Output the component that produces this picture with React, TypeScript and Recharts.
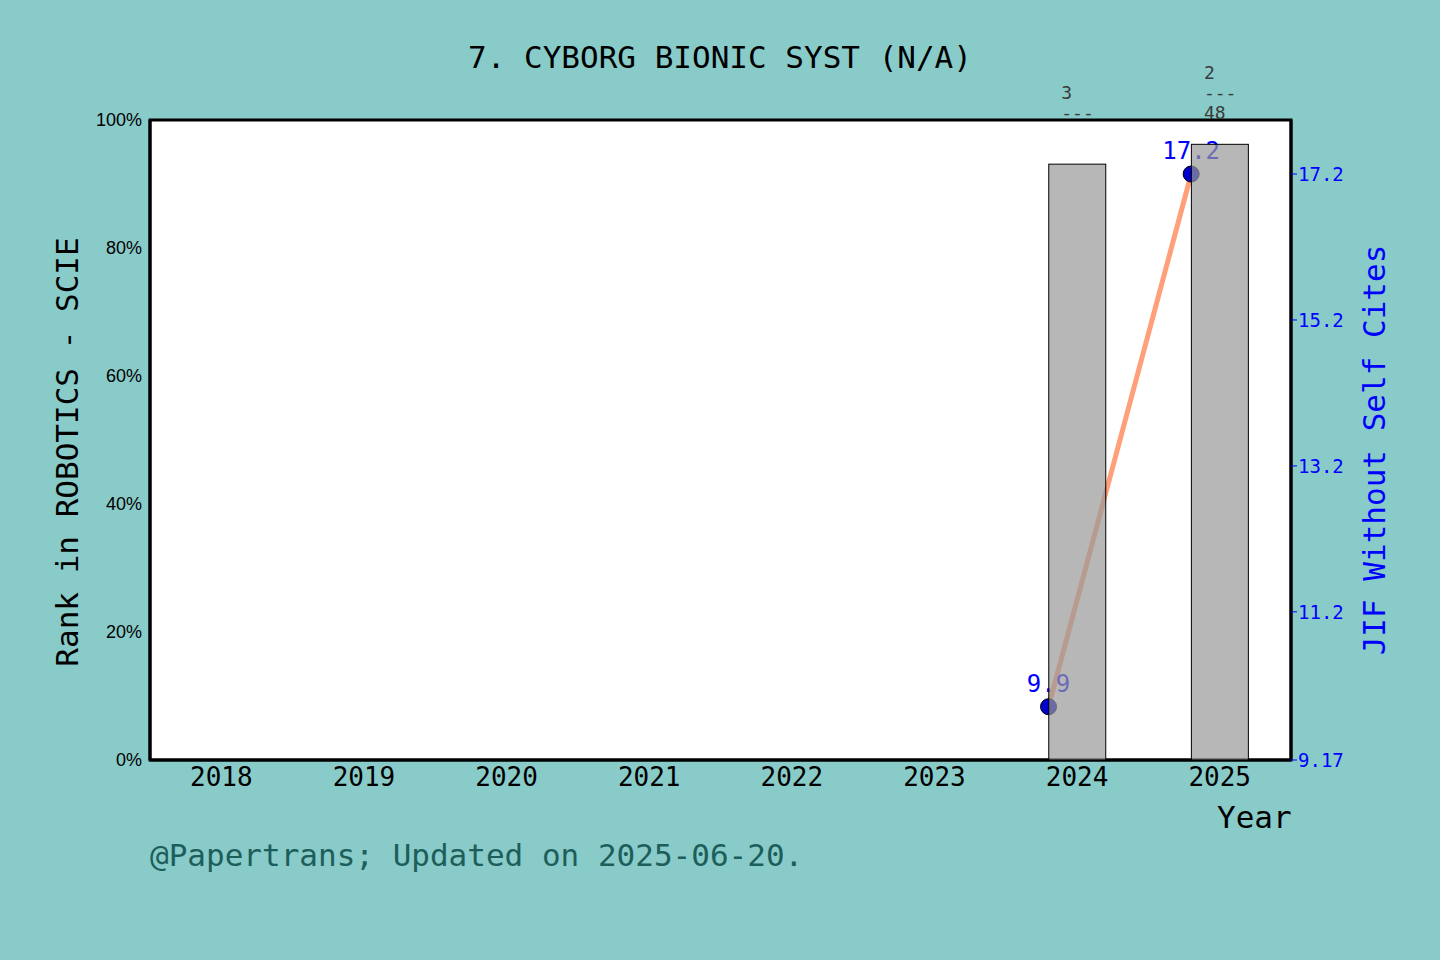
import React from 'react';
import {
  ComposedChart,
  Bar,
  Line,
  XAxis,
  YAxis,
  CartesianGrid,
  ReferenceArea,
  LabelList,
} from 'recharts';

const years = ['2018', '2019', '2020', '2021', '2022', '2023', '2024', '2025'];
const rankPct = [null, null, null, null, null, null, 93.1, 96.2];
const jifNoSelf = [null, null, null, null, null, null, 9.9, 17.2];
const rankPos = [null, null, null, null, null, null, 3, 2];
const rankTotal = [null, null, null, null, null, null, 43, 48];
const leftTicks = [0, 20, 40, 60, 80, 100];
const rightTicks = [9.17, 11.2, 13.2, 15.2, 17.2];
const boundaryTicks = [2018.5, 2019.5, 2020.5, 2021.5, 2022.5, 2023.5, 2024.5];

const data = years.map((y, i) => ({
  year: y,
  yearNum: Number(y),
  rank: rankPct[i],
  jif: jifNoSelf[i],
  pos: rankPos[i],
  total: rankTotal[i],
}));

const BG = '#88cbc9';
const MONO = '"DejaVu Sans Mono", monospace';
const PLOT_TOP = 120;

// bar rectangle plus the "rank / --- / total" note above it; the note is
// clipped at the plot's top edge, so the lower lines vanish behind the plot
const RankBar = (props: any) => {
  const { x, y, width, height, fill, fillOpacity, stroke, strokeWidth, payload } = props;
  if (!isFinite(x) || !isFinite(y) || !height) return null;
  const tx = x + width / 2 - 16;
  const lines = payload && payload.pos != null ? [String(payload.pos), '---', String(payload.total)] : [];
  const cid = `rank-clip-${payload ? payload.year : 'x'}`;
  return (
    <g>
      <rect
        x={x}
        y={y}
        width={width}
        height={height}
        fill={fill}
        fillOpacity={fillOpacity}
        stroke={stroke}
        strokeWidth={strokeWidth}
      />
      <defs>
        <clipPath id={cid}>
          <rect x={0} y={0} width={1440} height={PLOT_TOP} />
        </clipPath>
      </defs>
      <g clipPath={`url(#${cid})`}>
        {lines.map((t, k) => (
          <text
            key={k}
            x={tx}
            y={y - 72 + k * 20}
            fill="#3a3a3a"
            fontSize={18}
            fontFamily={MONO}
            dominantBaseline="central"
            textAnchor="start"
          >
            {t}
          </text>
        ))}
      </g>
    </g>
  );
};

const abs = (style: React.CSSProperties): React.CSSProperties => ({
  position: 'absolute',
  whiteSpace: 'nowrap',
  fontFamily: MONO,
  ...style,
});

export default function App() {
  return (
    <div style={{ position: 'absolute', left: 0, top: 0, width: 1440, height: 960, background: BG, overflow: 'hidden' }}>
      <ComposedChart
        width={1440}
        height={960}
        data={data}
        margin={{ top: PLOT_TOP, right: 69, bottom: 160, left: 90 }}
      >
        <CartesianGrid xAxisId="cat" yAxisId="left" horizontal={false} vertical={false} fill="#ffffff" />
        <XAxis
          xAxisId="grid"
          type="number"
          dataKey="yearNum"
          domain={[2017.5, 2025.5]}
          ticks={boundaryTicks}
          mirror
          height={0}
          tick={false}
          axisLine={false}
          tickSize={6}
          tickLine={{ stroke: '#000', strokeWidth: 1 }}
        />
        <XAxis
          xAxisId="cat"
          dataKey="year"
          height={40}
          tickLine={false}
          tickSize={0}
          tickMargin={8}
          axisLine={{ stroke: '#000', strokeWidth: 3 }}
          tick={{ fill: '#000', fontSize: 26, fontFamily: MONO }}
        />
        <XAxis
          xAxisId="line"
          type="number"
          dataKey="yearNum"
          domain={[2017.7, 2025.7]}
          hide
        />
        <YAxis
          yAxisId="leftInner"
          domain={[0, 100]}
          ticks={leftTicks}
          mirror
          width={0}
          tick={false}
          axisLine={false}
          tickSize={7}
          tickLine={{ stroke: '#000', strokeWidth: 1 }}
        />
        <YAxis
          yAxisId="left"
          domain={[0, 100]}
          ticks={leftTicks}
          width={60}
          tickLine={false}
          tickSize={0}
          tickMargin={8}
          tickFormatter={(v: number) => `${v}%`}
          axisLine={{ stroke: '#000', strokeWidth: 3 }}
          tick={{ fill: '#000', fontSize: 18, fontFamily: '"Liberation Sans", Arial, sans-serif' }}
        />
        <YAxis
          yAxisId="right"
          orientation="right"
          domain={[9.17, 17.94]}
          ticks={rightTicks}
          width={80}
          tickSize={6}
          tickMargin={1}
          tickLine={{ stroke: '#0000ff', strokeWidth: 1 }}
          axisLine={{ stroke: '#000', strokeWidth: 3 }}
          tick={{ fill: '#0000ff', fontSize: 19, fontFamily: MONO }}
        />
        <Line
          xAxisId="line"
          yAxisId="right"
          dataKey="jif"
          stroke="#ffa07a"
          strokeWidth={5}
          zIndex={250}
          dot={{ r: 8, fill: '#0000cd', stroke: '#000', strokeWidth: 1 }}
          isAnimationActive={false}
        >
          <LabelList
            dataKey="jif"
            position="top"
            offset={15}
            zIndex={260}
            fill="#0000ff"
            fontSize={24}
            fontFamily={MONO}
          />
        </Line>
        <Bar
          xAxisId="cat"
          yAxisId="left"
          dataKey="rank"
          barSize={57}
          zIndex={700}
          fill="#999999"
          fillOpacity={0.7}
          stroke="#000"
          strokeWidth={1}
          shape={RankBar}
          isAnimationActive={false}
        />
        <ReferenceArea
          xAxisId="cat"
          yAxisId="left"
          y1={0}
          y2={100}
          fill="none"
          stroke="#000"
          strokeWidth={3}
        />
      </ComposedChart>
      <div style={abs({ left: 0, width: 1440, top: 40, fontSize: 31, lineHeight: '34px', textAlign: 'center', color: '#000' })}>
        7. CYBORG BIONIC SYST (N/A)
      </div>
      <div
        style={abs({
          left: 67,
          top: 452,
          fontSize: 31,
          lineHeight: '34px',
          color: '#000',
          transform: 'translate(-50%, -50%) rotate(-90deg)',
        })}
      >
        Rank in ROBOTICS - SCIE
      </div>
      <div
        style={abs({
          left: 1374,
          top: 450,
          fontSize: 31,
          lineHeight: '34px',
          color: '#0000ff',
          transform: 'translate(-50%, -50%) rotate(-90deg)',
        })}
      >
        JIF Without Self Cites
      </div>
      <div style={abs({ left: 1217, top: 800, fontSize: 31, lineHeight: '34px', color: '#000' })}>Year</div>
      <div style={abs({ left: 150, top: 838, fontSize: 31, lineHeight: '34px', color: '#1d5e5a' })}>
        @Papertrans; Updated on 2025-06-20.
      </div>
    </div>
  );
}
